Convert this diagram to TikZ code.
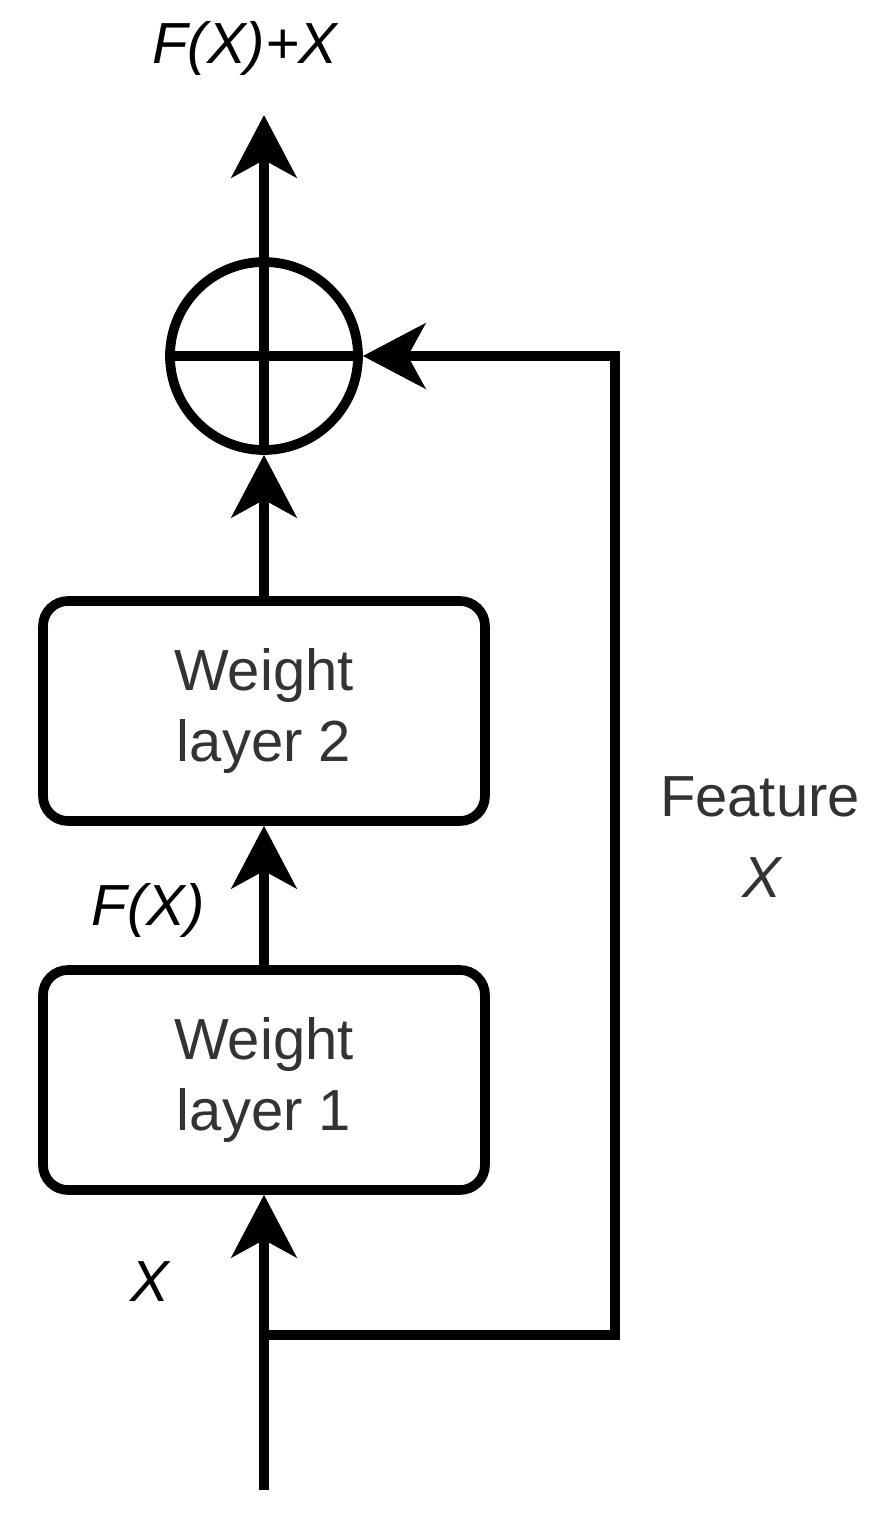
\documentclass[tikz,border=0pt]{standalone}
\usepackage{fontspec}
\setmainfont{Liberation Sans}
\usetikzlibrary{arrows.meta}
\begin{document}
\begin{tikzpicture}[x=0.02cm,y=-0.02cm,
  line width=5.5pt,
  arr/.style={-{Stealth[length=1.25cm,width=1.3cm,inset=0.35cm]}},
  wbox/.style={draw,rounded corners=0.5cm,minimum width=442*0.02cm,minimum height=220*0.02cm,align=center,font=\fontsize{33}{40}\selectfont,text=black!80},
  lbl/.style={font=\fontsize{33}{40}\selectfont\itshape}]
\useasboundingbox (0,0) rectangle (895,1519);
\node[wbox] (b1) at (264,1080) {Weight\\layer 1};
\node[wbox] (b2) at (264,711) {Weight\\layer 2};
\node[draw,circle,minimum size=188*0.02cm,inner sep=0pt] (c) at (264,356) {};
\draw (c.west) -- (c.east);
\draw (c.north) -- (c.south);
\coordinate (in) at (264,1490);
\coordinate (sp) at (264,1335);
\coordinate (r1) at (615,1335);
\coordinate (r2) at (615,356);
\coordinate (out) at (264,115);
\draw[arr] (in) -- (b1.south);
\draw[arr] (b1.north) -- (b2.south);
\draw[arr] (b2.north) -- (c.south);
\draw[arr] (c.north) -- (out);
\draw[arr,line join=miter] (sp) -- (r1) -- (r2) -- (c.east);
\node[lbl] (t1) at (245,48) {F(X)+X};
\node[lbl] (t2) at (148,910) {F(X)};
\node[lbl] (t3) at (150,1282) {X};
\node[font=\fontsize{33}{40}\selectfont,text=black!80] (t4) at (760,797) {Feature};
\node[lbl,text=black!80] (t5) at (762,878) {X};
\end{tikzpicture}
\end{document}
